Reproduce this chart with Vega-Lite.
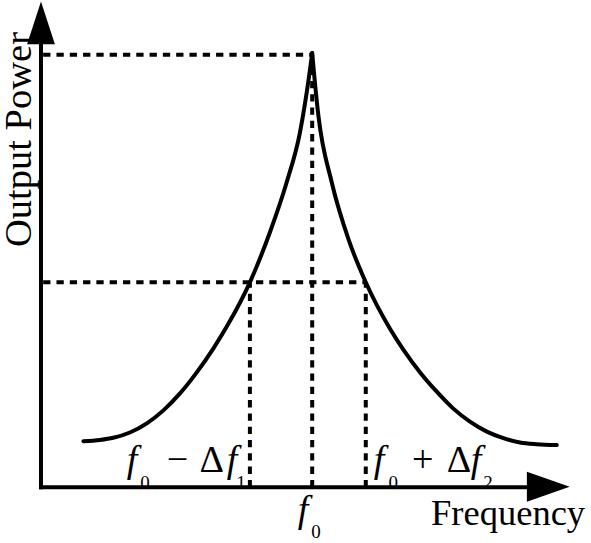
{
  "$schema": "https://vega.github.io/schema/vega-lite/v6.json",
  "width": 591,
  "height": 543,
  "autosize": {"type": "fit", "contains": "padding"},
  "padding": 0,
  "background": "white",
  "config": {"view": {"stroke": null}},
  "datasets": {
    "curve": [
      {"side": "left", "x": 15.6, "y": 10.6},
      {"side": "left", "x": 21.7, "y": 10.9},
      {"side": "left", "x": 26.6, "y": 11.4},
      {"side": "left", "x": 32.7, "y": 12.6},
      {"side": "left", "x": 38.9, "y": 14.7},
      {"side": "left", "x": 45.0, "y": 17.7},
      {"side": "left", "x": 51.1, "y": 21.6},
      {"side": "left", "x": 57.2, "y": 26.4},
      {"side": "left", "x": 63.4, "y": 32.0},
      {"side": "left", "x": 68.3, "y": 37.0},
      {"side": "left", "x": 76.8, "y": 47.2},
      {"side": "left", "x": 84.2, "y": 58.8},
      {"side": "left", "x": 90.3, "y": 70.2},
      {"side": "left", "x": 95.2, "y": 81.7},
      {"side": "left", "x": 98.9, "y": 96.2},
      {"side": "left", "x": 99.7, "y": 100},
      {"side": "right", "x": 99.7, "y": 100},
      {"side": "right", "x": 100.7, "y": 93.2},
      {"side": "right", "x": 102.0, "y": 85.5},
      {"side": "right", "x": 106.9, "y": 70.2},
      {"side": "right", "x": 113.0, "y": 57.2},
      {"side": "right", "x": 119.4, "y": 47.2},
      {"side": "right", "x": 128.3, "y": 36.5},
      {"side": "right", "x": 133.2, "y": 31.7},
      {"side": "right", "x": 139.3, "y": 26.5},
      {"side": "right", "x": 145.5, "y": 22.0},
      {"side": "right", "x": 151.6, "y": 18.1},
      {"side": "right", "x": 157.7, "y": 15.1},
      {"side": "right", "x": 163.9, "y": 12.8},
      {"side": "right", "x": 170.0, "y": 11.3},
      {"side": "right", "x": 176.1, "y": 10.3},
      {"side": "right", "x": 182.2, "y": 9.9},
      {"side": "right", "x": 189.6, "y": 9.7}
    ],
    "dashes": [
      {"x": 0.8, "y": 99.6, "x2": 99.7, "y2": 99.6},
      {"x": 99.7, "y": 0, "x2": 99.7, "y2": 99.6},
      {"x": 0.8, "y": 47.2, "x2": 119.4, "y2": 47.2},
      {"x": 76.8, "y": 0, "x2": 76.8, "y2": 47.2},
      {"x": 119.4, "y": 0, "x2": 119.4, "y2": 47.2}
    ],
    "axes": [
      {"x": 0, "y": -0.46, "x2": 0, "y2": 103},
      {"x": -0.74, "y": 0, "x2": 180, "y2": 0}
    ],
    "arrows": [
      {"x": 0, "y": 106.95, "dir": "up"},
      {"x": 186.5, "y": 0.1, "dir": "right"}
    ],
    "labels": [
      {"kind": "italic", "text": "f", "x": 33.5, "y": 3.44},
      {"kind": "italic", "text": "f", "x": 70.2, "y": 3.44},
      {"kind": "italic", "text": "f", "x": 124.3, "y": 3.44},
      {"kind": "italic", "text": "f", "x": 159.9, "y": 3.44},
      {"kind": "italic", "text": "f", "x": 96.3, "y": -8.03},
      {"kind": "sub", "text": "0", "x": 38.2, "y": -0.46},
      {"kind": "sub", "text": "1", "x": 73.5, "y": -0.46},
      {"kind": "sub", "text": "0", "x": 129.5, "y": -0.46},
      {"kind": "sub", "text": "2", "x": 164.3, "y": -0.46},
      {"kind": "sub", "text": "0", "x": 101.1, "y": -11.71},
      {"kind": "normal", "text": "−", "x": 50.2, "y": 3.44},
      {"kind": "normal", "text": "Δ", "x": 62.8, "y": 3.44},
      {"kind": "normal", "text": "+", "x": 140.3, "y": 3.44},
      {"kind": "normal", "text": "Δ", "x": 153.7, "y": 3.44},
      {"kind": "title", "text": "Frequency", "x": 143.4, "y": -8.72},
      {"kind": "ytitle", "text": "Output Power", "x": -3.5, "y": 80.1}
    ]
  },
  "encoding": {
    "x": {"field": "x", "type": "quantitative", "scale": {"domain": [-15.07, 202.2], "nice": false, "zero": false}, "axis": null},
    "y": {"field": "y", "type": "quantitative", "scale": {"domain": [-12.39, 112.23], "nice": false, "zero": false}, "axis": null}
  },
  "layer": [
    {
      "data": {"name": "dashes"},
      "mark": {"type": "rule", "color": "black", "strokeWidth": 4, "strokeDash": [7.3, 6], "strokeCap": "butt"},
      "encoding": {"x2": {"field": "x2"}, "y2": {"field": "y2"}}
    },
    {
      "data": {"name": "curve"},
      "mark": {"type": "line", "interpolate": "monotone", "color": "black", "strokeWidth": 4, "strokeCap": "round"},
      "encoding": {"detail": {"field": "side", "type": "nominal"}}
    },
    {
      "data": {"name": "labels"},
      "transform": [{"filter": "datum.kind === 'sub'"}],
      "mark": {"type": "text", "font": "Liberation Serif", "fontSize": 19, "align": "center", "baseline": "alphabetic", "color": "black"},
      "encoding": {"text": {"field": "text"}}
    },
    {
      "data": {"name": "axes"},
      "mark": {"type": "rule", "color": "black", "strokeWidth": 4, "strokeCap": "butt"},
      "encoding": {"x2": {"field": "x2"}, "y2": {"field": "y2"}}
    },
    {
      "data": {"name": "arrows"},
      "mark": {"type": "point", "filled": true, "color": "black", "opacity": 1, "strokeWidth": 0, "size": 1832},
      "encoding": {
        "shape": {"field": "dir", "type": "nominal", "scale": {"domain": ["up", "right"], "range": ["M0,-1L0.65,1L-0.65,1Z", "M1,0L-1,-0.7L-1,0.7Z"]}, "legend": null}
      }
    },
    {
      "data": {"name": "labels"},
      "transform": [{"filter": "datum.kind === 'italic'"}],
      "mark": {"type": "text", "font": "Liberation Serif", "fontStyle": "italic", "fontSize": 38, "align": "center", "baseline": "alphabetic", "color": "black"},
      "encoding": {"text": {"field": "text"}}
    },
    {
      "data": {"name": "labels"},
      "transform": [{"filter": "datum.kind === 'normal'"}],
      "mark": {"type": "text", "font": "Liberation Serif", "fontSize": 38, "align": "center", "baseline": "alphabetic", "color": "black"},
      "encoding": {"text": {"field": "text"}}
    },
    {
      "data": {"name": "labels"},
      "transform": [{"filter": "datum.kind === 'title'"}],
      "mark": {"type": "text", "font": "Liberation Serif", "fontSize": 36.5, "align": "left", "baseline": "alphabetic", "color": "black"},
      "encoding": {"text": {"field": "text"}}
    },
    {
      "data": {"name": "labels"},
      "transform": [{"filter": "datum.kind === 'ytitle'"}],
      "mark": {"type": "text", "font": "Liberation Serif", "fontSize": 38.5, "angle": -90, "align": "center", "baseline": "alphabetic", "color": "black"},
      "encoding": {"text": {"field": "text"}}
    }
  ]
}
